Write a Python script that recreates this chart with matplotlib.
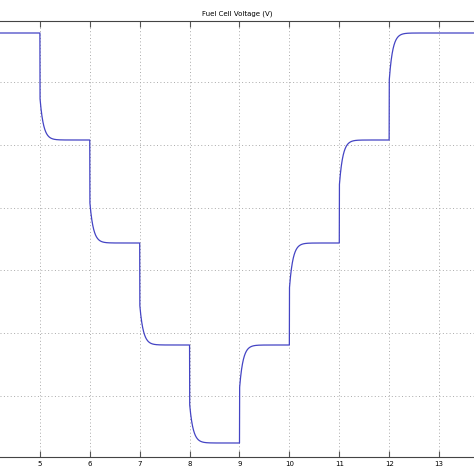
import numpy as np
import matplotlib
matplotlib.use("Agg")
import matplotlib.pyplot as plt

# step change times (s) and voltage levels (arbitrary units)
step_times = [5, 6, 7, 8, 9, 10, 11, 12]
levels = [424, 317, 214, 112, 14, 112, 214, 317, 424]
jump_frac = [0.6, 0.6, 0.6, 0.6, 0.55, 0.55, 0.55, 0.55]
tau = 0.07
xticks = [5, 6, 7, 8, 9, 10, 11, 12, 13]
yticks = [61, 124, 187, 249, 312, 375]

t = np.linspace(4.2, 13.7, 6000)
v = np.full_like(t, levels[0], dtype=float)
for i, ts in enumerate(step_times):
    m = t >= ts
    a, b = levels[i], levels[i + 1]
    start = a + (b - a) * jump_frac[i]
    v[m] = b + (start - b) * np.exp(-(t[m] - ts) / tau)

fig = plt.figure(figsize=(4.74, 4.74), dpi=100)
ax = fig.add_axes([0, 17/474, 1, 1 - 17/474 - 21/474])
ax.plot(t, v, color="#4444c4", lw=0.9)
ax.set_xlim(4.2, 13.7)
ax.set_ylim(0, 436)
ax.set_xticks(xticks)
ax.set_xticklabels([str(x) for x in xticks], fontsize=5)
ax.set_yticks(yticks)
ax.set_yticklabels([])
ax.tick_params(axis="x", direction="in", top=True, length=4, color="#555555", pad=3)
ax.tick_params(axis="y", length=0)
ax.grid(True, linestyle=(0, (1, 2.5)), color="#aaaaaa", lw=0.7)
for s in ax.spines.values():
    s.set_color("#444444")
ax.spines["left"].set_visible(False)
ax.spines["right"].set_visible(False)
ax.set_title("Fuel Cell Voltage (V)", fontsize=5, pad=4)
fig.savefig("out.png", dpi=100)
